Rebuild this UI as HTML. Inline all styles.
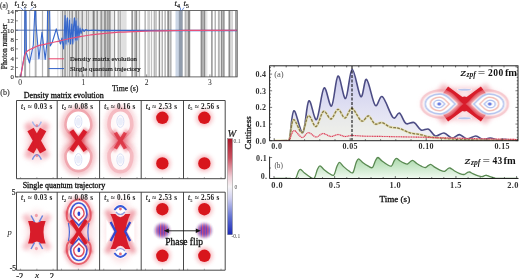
<!DOCTYPE html>
<html><head><meta charset="utf-8"><title>Figure</title>
<style>html,body{margin:0;padding:0;background:#fff;width:520px;height:278px;overflow:hidden}</style>
</head><body>
<svg width="520" height="278" viewBox="0 0 520 278" style="position:absolute;left:0;top:0;filter:blur(0.3px)">
<defs>
<filter id="b1" x="-50%" y="-50%" width="200%" height="200%"><feGaussianBlur stdDeviation="1"/></filter>
<filter id="b05" x="-50%" y="-50%" width="200%" height="200%"><feGaussianBlur stdDeviation="0.6"/></filter>
<filter id="b2" x="-50%" y="-50%" width="200%" height="200%"><feGaussianBlur stdDeviation="2"/></filter>
<filter id="b3" x="-50%" y="-50%" width="200%" height="200%"><feGaussianBlur stdDeviation="3"/></filter>
<filter id="b4" x="-50%" y="-50%" width="200%" height="200%"><feGaussianBlur stdDeviation="4.5"/></filter>
<radialGradient id="blob"><stop offset="0" stop-color="#d8121e"/><stop offset="0.55" stop-color="#dc1a26"/><stop offset="0.75" stop-color="#ec8088"/><stop offset="1" stop-color="#fff" stop-opacity="0"/></radialGradient>
<linearGradient id="cbar" x1="0" y1="0" x2="0" y2="1"><stop offset="0" stop-color="#a81828"/><stop offset="0.2" stop-color="#c85060"/><stop offset="0.4" stop-color="#f0d0d8"/><stop offset="0.5" stop-color="#f6f4f6"/><stop offset="0.62" stop-color="#d0d0f0"/><stop offset="0.82" stop-color="#6070d0"/><stop offset="1" stop-color="#1a28b8"/></linearGradient>
<linearGradient id="lav" gradientUnits="userSpaceOnUse" x1="0" y1="68" x2="0" y2="141"><stop offset="0" stop-color="#c8c8ec"/><stop offset="0.5" stop-color="#dedef2"/><stop offset="1" stop-color="#f2f2f6"/></linearGradient>
<linearGradient id="grn" x1="0" y1="0" x2="0" y2="1"><stop offset="0" stop-color="#a8d8a8"/><stop offset="1" stop-color="#f2faf2"/></linearGradient>
<pattern id="stripes" x="0.3" width="2.6" height="10" patternUnits="userSpaceOnUse"><rect width="2.6" height="10" fill="#c84878"/><rect x="1.3" width="1.3" height="10" fill="#5c44cc"/></pattern>
<radialGradient id="pfade"><stop offset="0" stop-color="#fff"/><stop offset="0.5" stop-color="#fff"/><stop offset="1" stop-color="#000"/></radialGradient>
<mask id="pmask"><ellipse cx="0" cy="0" rx="8.8" ry="8.6" fill="url(#pfade)" filter="url(#b1)"/></mask>
<clipPath id="clipA"><rect x="15.5" y="10.4" width="221.7" height="66.5"/></clipPath>
<clipPath id="clipR"><rect x="269.6" y="65.8" width="248.4" height="74.9"/></clipPath>
<clipPath id="clipG"><rect x="269.6" y="150" width="250" height="28.6"/></clipPath>
</defs>
<rect width="520" height="278" fill="#fff"/>
<g clip-path="url(#clipA)">
<rect x="60.00" y="10.40" width="50.00" height="66.50" fill="#000" fill-opacity="0.10"/>
<rect x="121.80" y="10.40" width="4.80" height="66.50" fill="#000" fill-opacity="0.12"/>
<rect x="109.00" y="10.40" width="5.00" height="66.50" fill="#000" fill-opacity="0.08"/>
<rect x="21.20" y="10.40" width="0.80" height="66.50" fill="#222" fill-opacity="0.21"/>
<rect x="24.10" y="10.40" width="2.00" height="66.50" fill="#222" fill-opacity="0.40"/>
<rect x="29.20" y="10.40" width="1.00" height="66.50" fill="#222" fill-opacity="0.34"/>
<rect x="34.70" y="10.40" width="1.90" height="66.50" fill="#222" fill-opacity="0.34"/>
<rect x="41.90" y="10.40" width="1.20" height="66.50" fill="#222" fill-opacity="0.34"/>
<rect x="47.20" y="10.40" width="2.40" height="66.50" fill="#222" fill-opacity="0.46"/>
<rect x="57.30" y="10.40" width="1.00" height="66.50" fill="#222" fill-opacity="0.17"/>
<rect x="62.00" y="10.40" width="1.10" height="66.50" fill="#222" fill-opacity="0.40"/>
<rect x="64.30" y="10.40" width="1.50" height="66.50" fill="#222" fill-opacity="0.40"/>
<rect x="67.20" y="10.40" width="0.60" height="66.50" fill="#222" fill-opacity="0.29"/>
<rect x="69.10" y="10.40" width="1.00" height="66.50" fill="#222" fill-opacity="0.40"/>
<rect x="71.50" y="10.40" width="1.50" height="66.50" fill="#222" fill-opacity="0.40"/>
<rect x="75.40" y="10.40" width="1.40" height="66.50" fill="#222" fill-opacity="0.52"/>
<rect x="77.80" y="10.40" width="1.40" height="66.50" fill="#222" fill-opacity="0.40"/>
<rect x="81.60" y="10.40" width="1.40" height="66.50" fill="#222" fill-opacity="0.40"/>
<rect x="86.00" y="10.40" width="1.00" height="66.50" fill="#222" fill-opacity="0.34"/>
<rect x="87.90" y="10.40" width="0.90" height="66.50" fill="#222" fill-opacity="0.34"/>
<rect x="92.70" y="10.40" width="1.90" height="66.50" fill="#222" fill-opacity="0.52"/>
<rect x="96.50" y="10.40" width="1.50" height="66.50" fill="#222" fill-opacity="0.40"/>
<rect x="100.40" y="10.40" width="1.90" height="66.50" fill="#222" fill-opacity="0.40"/>
<rect x="103.80" y="10.40" width="1.40" height="66.50" fill="#222" fill-opacity="0.40"/>
<rect x="107.10" y="10.40" width="1.50" height="66.50" fill="#222" fill-opacity="0.40"/>
<rect x="105.00" y="10.40" width="1.40" height="66.50" fill="#222" fill-opacity="0.34"/>
<rect x="108.80" y="10.40" width="2.00" height="66.50" fill="#222" fill-opacity="0.34"/>
<rect x="114.10" y="10.40" width="1.00" height="66.50" fill="#222" fill-opacity="0.52"/>
<rect x="117.50" y="10.40" width="1.50" height="66.50" fill="#222" fill-opacity="0.34"/>
<rect x="119.40" y="10.40" width="1.90" height="66.50" fill="#222" fill-opacity="0.34"/>
<rect x="131.40" y="10.40" width="1.50" height="66.50" fill="#222" fill-opacity="0.52"/>
<rect x="133.80" y="10.40" width="1.00" height="66.50" fill="#222" fill-opacity="0.34"/>
<rect x="135.30" y="10.40" width="1.90" height="66.50" fill="#222" fill-opacity="0.52"/>
<rect x="138.70" y="10.40" width="1.40" height="66.50" fill="#222" fill-opacity="0.34"/>
<rect x="144.40" y="10.40" width="1.50" height="66.50" fill="#222" fill-opacity="0.34"/>
<rect x="147.30" y="10.40" width="2.90" height="66.50" fill="#222" fill-opacity="0.21"/>
<rect x="151.20" y="10.40" width="0.90" height="66.50" fill="#222" fill-opacity="0.34"/>
<rect x="153.60" y="10.40" width="1.40" height="66.50" fill="#222" fill-opacity="0.34"/>
<rect x="155.30" y="10.40" width="1.40" height="66.50" fill="#222" fill-opacity="0.34"/>
<rect x="158.70" y="10.40" width="1.40" height="66.50" fill="#222" fill-opacity="0.52"/>
<rect x="161.50" y="10.40" width="1.50" height="66.50" fill="#222" fill-opacity="0.34"/>
<rect x="164.40" y="10.40" width="1.50" height="66.50" fill="#222" fill-opacity="0.34"/>
<rect x="167.30" y="10.40" width="1.90" height="66.50" fill="#222" fill-opacity="0.52"/>
<rect x="169.70" y="10.40" width="1.90" height="66.50" fill="#222" fill-opacity="0.34"/>
<rect x="178.80" y="10.40" width="3.90" height="66.50" fill="#222" fill-opacity="0.40"/>
<rect x="184.60" y="10.40" width="1.40" height="66.50" fill="#222" fill-opacity="0.34"/>
<rect x="186.00" y="10.40" width="2.00" height="66.50" fill="#222" fill-opacity="0.23"/>
<rect x="188.00" y="10.40" width="2.20" height="66.50" fill="#222" fill-opacity="0.52"/>
<rect x="200.60" y="10.40" width="1.90" height="66.50" fill="#222" fill-opacity="0.52"/>
<rect x="202.50" y="10.40" width="1.10" height="66.50" fill="#222" fill-opacity="0.29"/>
<rect x="203.60" y="10.40" width="1.80" height="66.50" fill="#222" fill-opacity="0.52"/>
<rect x="206.30" y="10.40" width="1.00" height="66.50" fill="#222" fill-opacity="0.17"/>
<rect x="211.20" y="10.40" width="1.40" height="66.50" fill="#222" fill-opacity="0.52"/>
<rect x="214.50" y="10.40" width="1.50" height="66.50" fill="#222" fill-opacity="0.34"/>
<rect x="217.90" y="10.40" width="1.90" height="66.50" fill="#222" fill-opacity="0.34"/>
<rect x="220.80" y="10.40" width="1.40" height="66.50" fill="#222" fill-opacity="0.52"/>
<rect x="222.20" y="10.40" width="1.00" height="66.50" fill="#222" fill-opacity="0.29"/>
<rect x="223.20" y="10.40" width="1.40" height="66.50" fill="#222" fill-opacity="0.52"/>
<rect x="228.50" y="10.40" width="1.90" height="66.50" fill="#222" fill-opacity="0.52"/>
<rect x="231.30" y="10.40" width="1.50" height="66.50" fill="#222" fill-opacity="0.23"/>
<rect x="235.20" y="10.40" width="1.40" height="66.50" fill="#222" fill-opacity="0.52"/>
<rect x="175.5" y="10.4" width="7" height="66.5" fill="#6a8ab8" fill-opacity="0.35"/>
<line x1="15.5" y1="30.19" x2="237.2" y2="30.19" stroke="#3a5aa0" stroke-width="0.8"/>
<path d="M62,46 L64,18 L78,18 L82,30 L80,40 L66,46 Z" fill="#8aa8e8" fill-opacity="0.35"/>
<path d="M26,50 L29.5,62 L34,44 L39,58 L42,33 L45,59 L47.5,42 L47.5,60 L26,60 Z" fill="#8aa8e8" fill-opacity="0.25"/>
<path d="M20.60,76.60 L22.50,66.00 L24.60,54.00 L24.90,9.00 L26.00,9.00 L26.40,53.00 L29.50,63.00 L33.30,45.00 L34.90,9.00 L35.60,9.00 L36.00,24.00 L38.90,58.70 L42.00,32.00 L45.20,59.40 L47.20,40.00 L47.60,9.00 L49.60,9.00 L50.20,46.00 L52.00,43.00 L54.20,36.00 L56.30,28.80 L58.50,38.00 L60.50,44.00 L62.00,38.00 L63.60,48.90 L65.10,15.50 L66.00,44.00 L66.80,22.00 L67.40,17.90 L68.30,42.00 L69.50,20.00 L70.50,44.00 L71.80,24.00 L72.80,44.00 L73.60,26.00 L74.50,17.90 L75.30,40.00 L76.00,20.80 L77.00,40.00 L78.00,26.00 L79.00,37.00 L80.00,28.00 L81.00,33.50 L82.50,29.00 L84.00,31.50 L86.00,29.50 L88.00,30.80 L92.00,30.20 L100.00,30.60 L237.00,30.60" fill="none" stroke="#3566cc" stroke-width="1.1" stroke-linejoin="round"/>
<path d="M20.60,76.80 C20.92,75.08 21.85,69.88 22.50,66.50 C23.15,63.12 24.00,58.72 24.50,56.50 C25.00,54.28 25.00,54.12 25.50,53.20 C26.00,52.28 26.75,51.62 27.50,51.00 C28.25,50.38 28.92,50.07 30.00,49.50 C31.08,48.93 32.33,48.32 34.00,47.60 C35.67,46.88 37.33,45.93 40.00,45.20 C42.67,44.47 46.67,43.93 50.00,43.20 C53.33,42.47 56.67,41.58 60.00,40.80 C63.33,40.02 66.67,39.20 70.00,38.50 C73.33,37.80 76.67,37.18 80.00,36.60 C83.33,36.02 86.67,35.47 90.00,35.00 C93.33,34.53 95.00,34.27 100.00,33.80 C105.00,33.33 113.33,32.62 120.00,32.20 C126.67,31.78 133.33,31.53 140.00,31.30 C146.67,31.07 153.33,30.93 160.00,30.80 C166.67,30.67 173.33,30.57 180.00,30.50 C186.67,30.43 190.50,30.39 200.00,30.35 C209.50,30.31 230.83,30.27 237.00,30.25" fill="none" stroke="#e8507a" stroke-width="1.2"/>
</g>
<rect x="15.50" y="10.40" width="221.70" height="66.50" fill="none" stroke="#444" stroke-width="0.8"/>
<line x1="15.5" y1="76.90" x2="18.0" y2="76.90" stroke="#444" stroke-width="0.6"/>
<text x="13.8" y="79.30" font-size="6.8" text-anchor="end" fill="#333" stroke="#333" stroke-width="0.15" font-family="'Liberation Serif', 'DejaVu Serif', serif">0</text>
<line x1="15.5" y1="67.56" x2="18.0" y2="67.56" stroke="#444" stroke-width="0.6"/>
<text x="13.8" y="69.96" font-size="6.8" text-anchor="end" fill="#333" stroke="#333" stroke-width="0.15" font-family="'Liberation Serif', 'DejaVu Serif', serif">2</text>
<line x1="15.5" y1="58.21" x2="18.0" y2="58.21" stroke="#444" stroke-width="0.6"/>
<text x="13.8" y="60.61" font-size="6.8" text-anchor="end" fill="#333" stroke="#333" stroke-width="0.15" font-family="'Liberation Serif', 'DejaVu Serif', serif">4</text>
<line x1="15.5" y1="48.87" x2="18.0" y2="48.87" stroke="#444" stroke-width="0.6"/>
<text x="13.8" y="51.27" font-size="6.8" text-anchor="end" fill="#333" stroke="#333" stroke-width="0.15" font-family="'Liberation Serif', 'DejaVu Serif', serif">6</text>
<line x1="15.5" y1="39.53" x2="18.0" y2="39.53" stroke="#444" stroke-width="0.6"/>
<text x="13.8" y="41.93" font-size="6.8" text-anchor="end" fill="#333" stroke="#333" stroke-width="0.15" font-family="'Liberation Serif', 'DejaVu Serif', serif">8</text>
<line x1="15.5" y1="30.19" x2="18.0" y2="30.19" stroke="#444" stroke-width="0.6"/>
<text x="13.8" y="32.59" font-size="6.8" text-anchor="end" fill="#333" stroke="#333" stroke-width="0.15" font-family="'Liberation Serif', 'DejaVu Serif', serif">10</text>
<line x1="15.5" y1="20.84" x2="18.0" y2="20.84" stroke="#444" stroke-width="0.6"/>
<text x="13.8" y="23.24" font-size="6.8" text-anchor="end" fill="#333" stroke="#333" stroke-width="0.15" font-family="'Liberation Serif', 'DejaVu Serif', serif">12</text>
<line x1="15.5" y1="11.50" x2="18.0" y2="11.50" stroke="#444" stroke-width="0.6"/>
<text x="13.8" y="13.90" font-size="6.8" text-anchor="end" fill="#333" stroke="#333" stroke-width="0.15" font-family="'Liberation Serif', 'DejaVu Serif', serif">14</text>
<line x1="20.00" y1="76.9" x2="20.00" y2="74.4" stroke="#444" stroke-width="0.6"/>
<text x="20.00" y="84.8" font-size="7.5" text-anchor="middle" fill="#222" font-family="'Liberation Serif', 'DejaVu Serif', serif">0</text>
<line x1="83.30" y1="76.9" x2="83.30" y2="74.4" stroke="#444" stroke-width="0.6"/>
<text x="83.30" y="84.8" font-size="7.5" text-anchor="middle" fill="#222" font-family="'Liberation Serif', 'DejaVu Serif', serif">1</text>
<line x1="146.60" y1="76.9" x2="146.60" y2="74.4" stroke="#444" stroke-width="0.6"/>
<text x="146.60" y="84.8" font-size="7.5" text-anchor="middle" fill="#222" font-family="'Liberation Serif', 'DejaVu Serif', serif">2</text>
<line x1="209.90" y1="76.9" x2="209.90" y2="74.4" stroke="#444" stroke-width="0.6"/>
<text x="209.90" y="84.8" font-size="7.5" text-anchor="middle" fill="#222" font-family="'Liberation Serif', 'DejaVu Serif', serif">3</text>
<text x="125.3" y="91.2" font-size="7.8" text-anchor="middle" fill="#222" stroke="#222" stroke-width="0.25" font-family="'Liberation Serif', 'DejaVu Serif', serif">Time (s)</text>
<text transform="translate(6.7,46.5) rotate(-90)" font-size="7.4" text-anchor="middle" fill="#222" stroke="#222" stroke-width="0.2" font-family="'Liberation Serif', 'DejaVu Serif', serif">Photon number</text>
<text x="0" y="8" font-size="7.2" fill="#333" stroke="#333" stroke-width="0.15" font-family="'Liberation Serif', 'DejaVu Serif', serif">(a)</text>
<line x1="48.6" y1="58.8" x2="64" y2="58.8" stroke="#e8406a" stroke-width="1"/>
<line x1="48.6" y1="68.6" x2="64" y2="68.6" stroke="#2f5fc8" stroke-width="1"/>
<text x="70" y="61.1" font-size="6.7" fill="#222" stroke="#222" stroke-width="0.2" font-family="'Liberation Serif', 'DejaVu Serif', serif">Density matrix evolution</text>
<text x="70" y="70.6" font-size="6.8" fill="#222" stroke="#222" stroke-width="0.2" font-family="'Liberation Serif', 'DejaVu Serif', serif">Single quantum trajectory</text>
<text x="14.40" y="6.40" font-size="8.5" font-style="italic" fill="#222" stroke="#222" stroke-width="0.2" font-family="'Liberation Serif', 'DejaVu Serif', serif">t<tspan font-size="6.2" font-style="normal" dy="1.6">1</tspan></text>
<text x="21.40" y="6.40" font-size="8.5" font-style="italic" fill="#222" stroke="#222" stroke-width="0.2" font-family="'Liberation Serif', 'DejaVu Serif', serif">t<tspan font-size="6.2" font-style="normal" dy="1.6">2</tspan></text>
<text x="30.80" y="6.40" font-size="8.5" font-style="italic" fill="#222" stroke="#222" stroke-width="0.2" font-family="'Liberation Serif', 'DejaVu Serif', serif">t<tspan font-size="6.2" font-style="normal" dy="1.6">3</tspan></text>
<text x="174.60" y="6.40" font-size="8.5" font-style="italic" fill="#222" stroke="#222" stroke-width="0.2" font-family="'Liberation Serif', 'DejaVu Serif', serif">t<tspan font-size="6.2" font-style="normal" dy="1.6">4</tspan></text>
<text x="183.40" y="6.40" font-size="8.5" font-style="italic" fill="#222" stroke="#222" stroke-width="0.2" font-family="'Liberation Serif', 'DejaVu Serif', serif">t<tspan font-size="6.2" font-style="normal" dy="1.6">5</tspan></text>
<path d="M20.5,7.5 L23.5,10.5 M25,7.5 L25,10.5 M33,7.5 L30,10.5 M180.5,7.5 L180.5,10.5 M184,7.5 L182,10.5" stroke="#3a6ad0" stroke-width="0.7" fill="none"/>
<text x="0.3" y="94.6" font-size="8" fill="#333" stroke="#333" stroke-width="0.15" font-family="'Liberation Serif', 'DejaVu Serif', serif">(b)</text>
<text x="23.8" y="97.6" font-size="8" fill="#111" stroke="#111" stroke-width="0.3" font-family="'Liberation Serif', 'DejaVu Serif', serif">Density matrix evolution</text>
<text x="22.7" y="188.2" font-size="7.95" fill="#111" stroke="#111" stroke-width="0.3" font-family="'Liberation Serif', 'DejaVu Serif', serif">Single quantum trajectory</text>
<svg x="16.50" y="100.50" width="40.70" height="78.20" viewBox="16.50 100.50 40.70 78.20" overflow="hidden">
<ellipse cx="36.85" cy="140.60" rx="11.00" ry="22.00" fill="#f6b0b8" stroke="none" stroke-width="1.00" opacity="0.40" filter="url(#b3)"/>
<path d="M26.85,123.60 L46.85,157.60 M46.85,123.60 L26.85,157.60" stroke="#ec7080" stroke-width="7.00" stroke-linecap="butt" opacity="0.50" filter="url(#b2)"/>
<path d="M30.55,129.40 L43.15,151.80 M43.15,129.40 L30.55,151.80" stroke="#d81e2a" stroke-width="7.20" stroke-linecap="butt" opacity="1.00" filter="url(#b05)"/>
<rect x="33.85" y="134.60" width="6" height="12" fill="#d81e2a" filter="url(#b05)"/>
<path d="M32.35,121.60 Q36.85,131.60 41.35,121.60" stroke="#a8b8ec" stroke-width="1.40" fill="none" opacity="1.00" filter="url(#b05)"/>
<path d="M32.35,159.60 Q36.85,149.60 41.35,159.60" stroke="#7890e0" stroke-width="1.40" fill="none" opacity="1.00" filter="url(#b05)"/>
<ellipse cx="36.85" cy="125.60" rx="1.30" ry="1.60" fill="#e06070" stroke="none" stroke-width="1.00" opacity="0.60" filter="url(#b05)"/>
<ellipse cx="36.85" cy="155.60" rx="1.30" ry="1.60" fill="#e06070" stroke="none" stroke-width="1.00" opacity="0.60" filter="url(#b05)"/>
</svg>
<text x="21.10" y="108.50" font-size="7.2" fill="#222" font-family="'Liberation Serif', 'DejaVu Serif', serif"><tspan font-style="italic" stroke="#222" stroke-width="0.2">t</tspan><tspan font-size="5" dy="1.3" font-weight="bold">1</tspan><tspan dy="-1.3" font-weight="bold" letter-spacing="0.25"> &#8776; 0.03 s</tspan></text>
<svg x="57.20" y="100.50" width="42.40" height="78.20" viewBox="57.20 100.50 42.40 78.20" overflow="hidden">
<linearGradient id="tg1" gradientUnits="userSpaceOnUse" x1="0" y1="110.10" x2="0" y2="171.10"><stop offset="0" stop-color="#f0a8b0"/><stop offset="0.35" stop-color="#f0a8b0"/><stop offset="0.5" stop-color="#d8202e"/><stop offset="0.65" stop-color="#f0a8b0"/><stop offset="1" stop-color="#f0a8b0"/></linearGradient>
<ellipse cx="78.40" cy="140.60" rx="14.45" ry="32.50" fill="#f4a8b0" stroke="none" stroke-width="1.00" opacity="0.35" filter="url(#b3)"/>
<path d="M78.40,140.60 C71.90,133.10 65.48,132.35 65.48,125.35 C65.48,117.35 70.40,110.10 78.40,110.10 C86.40,110.10 91.32,117.35 91.32,125.35 C91.32,132.35 84.90,133.10 78.40,140.60 Z" fill="#fff" stroke="url(#tg1)" stroke-width="8.60" opacity="0.60" filter="url(#b2)"/>
<path d="M78.40,140.60 C71.90,133.10 65.48,132.35 65.48,125.35 C65.48,117.35 70.40,110.10 78.40,110.10 C86.40,110.10 91.32,117.35 91.32,125.35 C91.32,132.35 84.90,133.10 78.40,140.60 Z" fill="#fff" stroke="url(#tg1)" stroke-width="2.60" opacity="1.00" filter="url(#b05)"/>
<ellipse cx="78.40" cy="121.69" rx="3.50" ry="6.00" fill="none" stroke="#c8d2f2" stroke-width="1.00" opacity="0.70" filter="url(#b05)"/>
<ellipse cx="78.40" cy="121.69" rx="2.50" ry="4.00" fill="#e6ebfa" stroke="none" stroke-width="1.00" opacity="0.80" filter="url(#b05)"/>
<path d="M78.40,140.60 C71.90,148.10 65.48,148.85 65.48,155.85 C65.48,163.85 70.40,171.10 78.40,171.10 C86.40,171.10 91.32,163.85 91.32,155.85 C91.32,148.85 84.90,148.10 78.40,140.60 Z" fill="#fff" stroke="url(#tg1)" stroke-width="8.60" opacity="0.60" filter="url(#b2)"/>
<path d="M78.40,140.60 C71.90,148.10 65.48,148.85 65.48,155.85 C65.48,163.85 70.40,171.10 78.40,171.10 C86.40,171.10 91.32,163.85 91.32,155.85 C91.32,148.85 84.90,148.10 78.40,140.60 Z" fill="#fff" stroke="url(#tg1)" stroke-width="2.60" opacity="1.00" filter="url(#b05)"/>
<ellipse cx="78.40" cy="159.51" rx="3.50" ry="6.00" fill="none" stroke="#c8d2f2" stroke-width="1.00" opacity="0.70" filter="url(#b05)"/>
<ellipse cx="78.40" cy="159.51" rx="2.50" ry="4.00" fill="#e6ebfa" stroke="none" stroke-width="1.00" opacity="0.80" filter="url(#b05)"/>
<path d="M69.90,129.10 L86.90,152.10 M86.90,129.10 L69.90,152.10" stroke="#e04a5a" stroke-width="6.00" stroke-linecap="butt" opacity="0.45" filter="url(#b1)"/>
<path d="M71.40,130.60 L85.40,150.60 M85.40,130.60 L71.40,150.60" stroke="#d81e2a" stroke-width="4.60" stroke-linecap="butt" opacity="1.00" filter="url(#b05)"/>
</svg>
<text x="61.80" y="108.50" font-size="7.2" fill="#222" font-family="'Liberation Serif', 'DejaVu Serif', serif"><tspan font-style="italic" stroke="#222" stroke-width="0.2">t</tspan><tspan font-size="5" dy="1.3" font-weight="bold">2</tspan><tspan dy="-1.3" font-weight="bold" letter-spacing="0.25"> &#8776; 0.08 s</tspan></text>
<svg x="99.60" y="100.50" width="41.60" height="78.20" viewBox="99.60 100.50 41.60 78.20" overflow="hidden">
<linearGradient id="tg2" gradientUnits="userSpaceOnUse" x1="0" y1="109.60" x2="0" y2="171.60"><stop offset="0" stop-color="#f4b4bc"/><stop offset="0.35" stop-color="#f4b4bc"/><stop offset="0.5" stop-color="#e04a5a"/><stop offset="0.65" stop-color="#f4b4bc"/><stop offset="1" stop-color="#f4b4bc"/></linearGradient>
<ellipse cx="120.40" cy="140.60" rx="12.75" ry="33.00" fill="#f4a8b0" stroke="none" stroke-width="1.00" opacity="0.35" filter="url(#b3)"/>
<path d="M120.40,140.60 C113.90,133.10 109.00,132.10 109.00,125.10 C109.00,117.10 112.40,109.60 120.40,109.60 C128.40,109.60 131.80,117.10 131.80,125.10 C131.80,132.10 126.90,133.10 120.40,140.60 Z" fill="#fff" stroke="url(#tg2)" stroke-width="9.60" opacity="0.48" filter="url(#b2)"/>
<path d="M120.40,140.60 C113.90,133.10 109.00,132.10 109.00,125.10 C109.00,117.10 112.40,109.60 120.40,109.60 C128.40,109.60 131.80,117.10 131.80,125.10 C131.80,132.10 126.90,133.10 120.40,140.60 Z" fill="#fff" stroke="url(#tg2)" stroke-width="3.60" opacity="0.80" filter="url(#b05)"/>
<ellipse cx="120.40" cy="121.38" rx="3.50" ry="6.00" fill="none" stroke="#c8d2f2" stroke-width="1.00" opacity="0.70" filter="url(#b05)"/>
<ellipse cx="120.40" cy="121.38" rx="2.50" ry="4.00" fill="#e6ebfa" stroke="none" stroke-width="1.00" opacity="0.80" filter="url(#b05)"/>
<path d="M120.40,140.60 C113.90,148.10 109.00,149.10 109.00,156.10 C109.00,164.10 112.40,171.60 120.40,171.60 C128.40,171.60 131.80,164.10 131.80,156.10 C131.80,149.10 126.90,148.10 120.40,140.60 Z" fill="#fff" stroke="url(#tg2)" stroke-width="9.60" opacity="0.48" filter="url(#b2)"/>
<path d="M120.40,140.60 C113.90,148.10 109.00,149.10 109.00,156.10 C109.00,164.10 112.40,171.60 120.40,171.60 C128.40,171.60 131.80,164.10 131.80,156.10 C131.80,149.10 126.90,148.10 120.40,140.60 Z" fill="#fff" stroke="url(#tg2)" stroke-width="3.60" opacity="0.80" filter="url(#b05)"/>
<ellipse cx="120.40" cy="159.82" rx="3.50" ry="6.00" fill="none" stroke="#c8d2f2" stroke-width="1.00" opacity="0.70" filter="url(#b05)"/>
<ellipse cx="120.40" cy="159.82" rx="2.50" ry="4.00" fill="#e6ebfa" stroke="none" stroke-width="1.00" opacity="0.80" filter="url(#b05)"/>
<path d="M113.40,130.10 L127.40,151.10 M127.40,130.10 L113.40,151.10" stroke="#e86070" stroke-width="5.00" stroke-linecap="butt" opacity="0.40" filter="url(#b1)"/>
<path d="M115.40,132.60 L125.40,148.60 M125.40,132.60 L115.40,148.60" stroke="#dc3040" stroke-width="3.60" stroke-linecap="butt" opacity="0.85" filter="url(#b05)"/>
</svg>
<text x="104.20" y="108.50" font-size="7.2" fill="#222" font-family="'Liberation Serif', 'DejaVu Serif', serif"><tspan font-style="italic" stroke="#222" stroke-width="0.2">t</tspan><tspan font-size="5" dy="1.3" font-weight="bold">3</tspan><tspan dy="-1.3" font-weight="bold" letter-spacing="0.25"> &#8776; 0.16 s</tspan></text>
<svg x="141.20" y="100.50" width="42.30" height="78.20" viewBox="141.20 100.50 42.30 78.20" overflow="hidden">
<circle cx="162.35" cy="117.80" r="8.20" fill="#e83a48" opacity="0.35" filter="url(#b2)"/>
<circle cx="162.35" cy="117.80" r="6.20" fill="#d8151f" filter="url(#b05)"/>
<circle cx="162.35" cy="163.40" r="8.20" fill="#e83a48" opacity="0.35" filter="url(#b2)"/>
<circle cx="162.35" cy="163.40" r="6.20" fill="#d8151f" filter="url(#b05)"/>
</svg>
<text x="145.80" y="108.50" font-size="7.2" fill="#222" font-family="'Liberation Serif', 'DejaVu Serif', serif"><tspan font-style="italic" stroke="#222" stroke-width="0.2">t</tspan><tspan font-size="5" dy="1.3" font-weight="bold">4</tspan><tspan dy="-1.3" font-weight="bold" letter-spacing="0.25"> &#8776; 2.53 s</tspan></text>
<svg x="183.50" y="100.50" width="41.70" height="78.20" viewBox="183.50 100.50 41.70 78.20" overflow="hidden">
<circle cx="204.35" cy="117.80" r="8.20" fill="#e83a48" opacity="0.35" filter="url(#b2)"/>
<circle cx="204.35" cy="117.80" r="6.20" fill="#d8151f" filter="url(#b05)"/>
<circle cx="204.35" cy="163.40" r="8.20" fill="#e83a48" opacity="0.35" filter="url(#b2)"/>
<circle cx="204.35" cy="163.40" r="6.20" fill="#d8151f" filter="url(#b05)"/>
</svg>
<text x="188.10" y="108.50" font-size="7.2" fill="#222" font-family="'Liberation Serif', 'DejaVu Serif', serif"><tspan font-style="italic" stroke="#222" stroke-width="0.2">t</tspan><tspan font-size="5" dy="1.3" font-weight="bold">5</tspan><tspan dy="-1.3" font-weight="bold" letter-spacing="0.25"> &#8776; 2.56 s</tspan></text>
<line x1="16.50" y1="100.50" x2="16.50" y2="178.70" stroke="#333" stroke-width="0.9"/>
<line x1="57.20" y1="100.50" x2="57.20" y2="178.70" stroke="#333" stroke-width="0.9"/>
<line x1="99.60" y1="100.50" x2="99.60" y2="178.70" stroke="#333" stroke-width="0.9"/>
<line x1="141.20" y1="100.50" x2="141.20" y2="178.70" stroke="#333" stroke-width="0.9"/>
<line x1="183.50" y1="100.50" x2="183.50" y2="178.70" stroke="#333" stroke-width="0.9"/>
<line x1="225.20" y1="100.50" x2="225.20" y2="178.70" stroke="#333" stroke-width="0.9"/>
<line x1="16.50" y1="100.50" x2="225.20" y2="100.50" stroke="#333" stroke-width="0.9"/>
<line x1="16.50" y1="178.70" x2="225.20" y2="178.70" stroke="#333" stroke-width="0.9"/>
<line x1="20.57" y1="178.70" x2="20.57" y2="177.20" stroke="#555" stroke-width="0.5"/>
<line x1="36.85" y1="178.70" x2="36.85" y2="177.20" stroke="#555" stroke-width="0.5"/>
<line x1="53.13" y1="178.70" x2="53.13" y2="177.20" stroke="#555" stroke-width="0.5"/>
<line x1="61.44" y1="178.70" x2="61.44" y2="177.20" stroke="#555" stroke-width="0.5"/>
<line x1="78.40" y1="178.70" x2="78.40" y2="177.20" stroke="#555" stroke-width="0.5"/>
<line x1="95.36" y1="178.70" x2="95.36" y2="177.20" stroke="#555" stroke-width="0.5"/>
<line x1="103.76" y1="178.70" x2="103.76" y2="177.20" stroke="#555" stroke-width="0.5"/>
<line x1="120.40" y1="178.70" x2="120.40" y2="177.20" stroke="#555" stroke-width="0.5"/>
<line x1="137.04" y1="178.70" x2="137.04" y2="177.20" stroke="#555" stroke-width="0.5"/>
<line x1="145.43" y1="178.70" x2="145.43" y2="177.20" stroke="#555" stroke-width="0.5"/>
<line x1="162.35" y1="178.70" x2="162.35" y2="177.20" stroke="#555" stroke-width="0.5"/>
<line x1="179.27" y1="178.70" x2="179.27" y2="177.20" stroke="#555" stroke-width="0.5"/>
<line x1="187.67" y1="178.70" x2="187.67" y2="177.20" stroke="#555" stroke-width="0.5"/>
<line x1="204.35" y1="178.70" x2="204.35" y2="177.20" stroke="#555" stroke-width="0.5"/>
<line x1="221.03" y1="178.70" x2="221.03" y2="177.20" stroke="#555" stroke-width="0.5"/>
<svg x="16.50" y="192.20" width="40.70" height="78.00" viewBox="16.50 192.20 40.70 78.00" overflow="hidden">
<ellipse cx="36.85" cy="232.00" rx="11.00" ry="22.00" fill="#f6b0b8" stroke="none" stroke-width="1.00" opacity="0.35" filter="url(#b3)"/>
<path d="M24.35,215.00 L49.35,249.00 M49.35,215.00 L24.35,249.00" stroke="#ec7080" stroke-width="6.00" stroke-linecap="butt" opacity="0.45" filter="url(#b2)"/>
<path d="M28.05,221.00 Q32.35,232.00 28.05,243.50 L33.35,243.50 Q36.85,239.50 40.35,243.50 L45.65,243.50 Q41.35,232.00 45.65,221.00 L40.35,221.00 Q36.85,224.50 33.35,221.00 Z" fill="#d81e2a" filter="url(#b05)"/>
<path d="M31.05,215.50 L34.55,222.00 M42.65,215.50 L39.15,222.00" stroke="#6a84dc" stroke-width="1.5" fill="none" filter="url(#b05)"/>
<path d="M31.05,249.00 L34.55,242.50 M42.65,249.00 L39.15,242.50" stroke="#6a84dc" stroke-width="1.5" fill="none" filter="url(#b05)"/>
<ellipse cx="36.35" cy="215.50" rx="1.50" ry="1.80" fill="#e87080" stroke="none" stroke-width="1.00" opacity="0.60" filter="url(#b05)"/>
<ellipse cx="36.35" cy="248.50" rx="1.50" ry="1.80" fill="#e87080" stroke="none" stroke-width="1.00" opacity="0.60" filter="url(#b05)"/>
</svg>
<text x="21.10" y="200.20" font-size="7.2" fill="#222" font-family="'Liberation Serif', 'DejaVu Serif', serif"><tspan font-style="italic" stroke="#222" stroke-width="0.2">t</tspan><tspan font-size="5" dy="1.3" font-weight="bold">1</tspan><tspan dy="-1.3" font-weight="bold" letter-spacing="0.25"> &#8776; 0.03 s</tspan></text>
<svg x="57.20" y="192.20" width="42.40" height="78.00" viewBox="57.20 192.20 42.40 78.00" overflow="hidden">
<ellipse cx="78.40" cy="232.00" rx="15.00" ry="33.00" fill="#f6b0b8" stroke="none" stroke-width="1.00" opacity="0.40" filter="url(#b3)"/>
<path d="M78.70,232.00 C71.20,222.00 66.70,222.90 66.70,215.75 C66.70,207.62 71.26,199.50 78.70,199.50 C86.14,199.50 90.70,207.62 90.70,215.75 C90.70,222.90 86.20,222.00 78.70,232.00 Z" fill="#fff" stroke="#e45060" stroke-width="5" opacity="0.4" filter="url(#b2)"/>
<path d="M78.70,232.00 C71.20,222.00 66.70,222.90 66.70,215.75 C66.70,207.62 71.26,199.50 78.70,199.50 C86.14,199.50 90.70,207.62 90.70,215.75 C90.70,222.90 86.20,222.00 78.70,232.00 Z" fill="#fff" stroke="#e03848" stroke-width="2.0" opacity="0.7" filter="url(#b05)"/>
<path d="M78.80,225.50 C74.30,219.50 70.60,219.20 70.60,214.25 C70.60,208.62 73.72,203.00 78.80,203.00 C83.88,203.00 87.00,208.62 87.00,214.25 C87.00,219.20 83.30,219.50 78.80,225.50 Z" fill="none" stroke="#3a5ad8" stroke-width="1.7" filter="url(#b05)"/>
<path d="M78.90,220.50 C76.40,217.00 73.70,216.72 73.70,213.75 C73.70,210.38 75.68,207.00 78.90,207.00 C82.12,207.00 84.10,210.38 84.10,213.75 C84.10,216.72 81.40,217.00 78.90,220.50 Z" fill="none" stroke="#e04a58" stroke-width="1.4" filter="url(#b05)"/>
<ellipse cx="78.90" cy="213.80" rx="1.40" ry="2.30" fill="#2a40d0" stroke="none" stroke-width="1.00" opacity="1.00" filter="url(#b05)"/>
<path d="M78.70,232.00 C71.20,242.00 66.70,240.96 66.70,248.00 C66.70,256.00 71.26,264.00 78.70,264.00 C86.14,264.00 90.70,256.00 90.70,248.00 C90.70,240.96 86.20,242.00 78.70,232.00 Z" fill="#fff" stroke="#e45060" stroke-width="5" opacity="0.4" filter="url(#b2)"/>
<path d="M78.70,232.00 C71.20,242.00 66.70,240.96 66.70,248.00 C66.70,256.00 71.26,264.00 78.70,264.00 C86.14,264.00 90.70,256.00 90.70,248.00 C90.70,240.96 86.20,242.00 78.70,232.00 Z" fill="#fff" stroke="#e03848" stroke-width="2.0" opacity="0.7" filter="url(#b05)"/>
<path d="M78.80,238.50 C74.30,244.50 70.60,244.66 70.60,249.50 C70.60,255.00 73.72,260.50 78.80,260.50 C83.88,260.50 87.00,255.00 87.00,249.50 C87.00,244.66 83.30,244.50 78.80,238.50 Z" fill="none" stroke="#3a5ad8" stroke-width="1.7" filter="url(#b05)"/>
<path d="M78.90,243.50 C76.40,247.00 73.70,247.14 73.70,250.00 C73.70,253.25 75.68,256.50 78.90,256.50 C82.12,256.50 84.10,253.25 84.10,250.00 C84.10,247.14 81.40,247.00 78.90,243.50 Z" fill="none" stroke="#e04a58" stroke-width="1.4" filter="url(#b05)"/>
<ellipse cx="78.90" cy="249.92" rx="1.40" ry="2.30" fill="#2a40d0" stroke="none" stroke-width="1.00" opacity="1.00" filter="url(#b05)"/>
<path d="M68.40,223.00 Q70.40,232.00 68.40,241.00" stroke="#4a6ad8" stroke-width="1.20" fill="none" opacity="1.00" filter="url(#b05)"/>
<path d="M88.90,223.00 Q86.90,232.00 88.90,241.00" stroke="#4a6ad8" stroke-width="1.20" fill="none" opacity="1.00" filter="url(#b05)"/>
<path d="M65.70,211.00 L91.70,253.00 M91.70,211.00 L65.70,253.00" stroke="#e04050" stroke-width="3.20" stroke-linecap="butt" opacity="0.55" filter="url(#b1)"/>
<path d="M71.20,220.00 L86.20,244.00 M86.20,220.00 L71.20,244.00" stroke="#d81e2a" stroke-width="3.60" stroke-linecap="butt" opacity="1.00" filter="url(#b05)"/>
</svg>
<text x="61.80" y="200.20" font-size="7.2" fill="#222" font-family="'Liberation Serif', 'DejaVu Serif', serif"><tspan font-style="italic" stroke="#222" stroke-width="0.2">t</tspan><tspan font-size="5" dy="1.3" font-weight="bold">2</tspan><tspan dy="-1.3" font-weight="bold" letter-spacing="0.25"> &#8776; 0.08 s</tspan></text>
<svg x="99.60" y="192.20" width="41.60" height="78.00" viewBox="99.60 192.20 41.60 78.00" overflow="hidden">
<ellipse cx="120.40" cy="231.50" rx="15.00" ry="31.00" fill="#f6b0b8" stroke="none" stroke-width="1.00" opacity="0.40" filter="url(#b3)"/>
<path d="M106.40,210.50 L134.40,252.50 M134.40,210.50 L106.40,252.50" stroke="#e05060" stroke-width="5.00" stroke-linecap="butt" opacity="0.55" filter="url(#b2)"/>
<path d="M110.40,214.00 Q119.40,231.50 110.40,249.00 L115.40,249.00 Q120.40,242.50 125.40,249.00 L130.40,249.00 Q121.40,231.50 130.40,214.00 L125.40,214.00 Q120.40,220.50 115.40,214.00 Z" fill="#d81e2a" filter="url(#b05)"/>
<path d="M106.40,219.50 L113.40,231.50 L106.40,243.50 Z" fill="#fff" filter="url(#b05)"/>
<path d="M110.60,222.00 L115.60,231.50 L110.60,241.00" stroke="#3048d0" stroke-width="2.3" fill="none" filter="url(#b05)"/>
<ellipse cx="120.40" cy="209.00" rx="6.00" ry="4.50" fill="#fff" stroke="none" stroke-width="1.00" opacity="1.00" filter="url(#b05)"/>
<path d="M114.40,210.00 Q120.40,202.00 126.40,210.00" stroke="#3a5ad8" stroke-width="1.80" fill="none" opacity="1.00" filter="url(#b05)"/>
<path d="M115.90,212.00 Q120.40,217.00 124.90,212.00" stroke="#8aa0e4" stroke-width="1.20" fill="none" opacity="1.00" filter="url(#b05)"/>
<ellipse cx="120.40" cy="209.00" rx="1.40" ry="1.40" fill="#e04a58" stroke="none" stroke-width="1.00" opacity="0.80" filter="url(#b05)"/>
<path d="M134.40,219.50 L127.40,231.50 L134.40,243.50 Z" fill="#fff" filter="url(#b05)"/>
<path d="M130.20,222.00 L125.20,231.50 L130.20,241.00" stroke="#3048d0" stroke-width="2.3" fill="none" filter="url(#b05)"/>
<ellipse cx="120.40" cy="254.00" rx="6.00" ry="4.50" fill="#fff" stroke="none" stroke-width="1.00" opacity="1.00" filter="url(#b05)"/>
<path d="M114.40,253.00 Q120.40,261.00 126.40,253.00" stroke="#3a5ad8" stroke-width="1.80" fill="none" opacity="1.00" filter="url(#b05)"/>
<path d="M115.90,251.00 Q120.40,246.00 124.90,251.00" stroke="#8aa0e4" stroke-width="1.20" fill="none" opacity="1.00" filter="url(#b05)"/>
<ellipse cx="120.40" cy="254.00" rx="1.40" ry="1.40" fill="#e04a58" stroke="none" stroke-width="1.00" opacity="0.80" filter="url(#b05)"/>
</svg>
<text x="104.20" y="200.20" font-size="7.2" fill="#222" font-family="'Liberation Serif', 'DejaVu Serif', serif"><tspan font-style="italic" stroke="#222" stroke-width="0.2">t</tspan><tspan font-size="5" dy="1.3" font-weight="bold">3</tspan><tspan dy="-1.3" font-weight="bold" letter-spacing="0.25"> &#8776; 0.16 s</tspan></text>
<svg x="141.20" y="192.20" width="42.30" height="78.00" viewBox="141.20 192.20 42.30 78.00" overflow="hidden">
<circle cx="162.35" cy="209.20" r="8.20" fill="#e83a48" opacity="0.35" filter="url(#b2)"/>
<circle cx="162.35" cy="209.20" r="6.20" fill="#d8151f" filter="url(#b05)"/>
<circle cx="162.35" cy="255.80" r="8.20" fill="#e83a48" opacity="0.35" filter="url(#b2)"/>
<circle cx="162.35" cy="255.80" r="6.20" fill="#d8151f" filter="url(#b05)"/>
<g transform="translate(162.35,230.50)"><g mask="url(#pmask)"><rect x="-10" y="-10" width="20" height="20" fill="url(#stripes)"/></g></g>
</svg>
<text x="145.80" y="200.20" font-size="7.2" fill="#222" font-family="'Liberation Serif', 'DejaVu Serif', serif"><tspan font-style="italic" stroke="#222" stroke-width="0.2">t</tspan><tspan font-size="5" dy="1.3" font-weight="bold">4</tspan><tspan dy="-1.3" font-weight="bold" letter-spacing="0.25"> &#8776; 2.53 s</tspan></text>
<svg x="183.50" y="192.20" width="41.70" height="78.00" viewBox="183.50 192.20 41.70 78.00" overflow="hidden">
<circle cx="204.35" cy="209.20" r="8.20" fill="#e83a48" opacity="0.35" filter="url(#b2)"/>
<circle cx="204.35" cy="209.20" r="6.20" fill="#d8151f" filter="url(#b05)"/>
<circle cx="204.35" cy="255.80" r="8.20" fill="#e83a48" opacity="0.35" filter="url(#b2)"/>
<circle cx="204.35" cy="255.80" r="6.20" fill="#d8151f" filter="url(#b05)"/>
<g transform="translate(204.35,230.50)"><g mask="url(#pmask)"><rect x="-10" y="-10" width="20" height="20" fill="url(#stripes)"/></g></g>
</svg>
<text x="188.10" y="200.20" font-size="7.2" fill="#222" font-family="'Liberation Serif', 'DejaVu Serif', serif"><tspan font-style="italic" stroke="#222" stroke-width="0.2">t</tspan><tspan font-size="5" dy="1.3" font-weight="bold">5</tspan><tspan dy="-1.3" font-weight="bold" letter-spacing="0.25"> &#8776; 2.56 s</tspan></text>
<line x1="16.50" y1="192.20" x2="16.50" y2="270.20" stroke="#333" stroke-width="0.9"/>
<line x1="57.20" y1="192.20" x2="57.20" y2="270.20" stroke="#333" stroke-width="0.9"/>
<line x1="99.60" y1="192.20" x2="99.60" y2="270.20" stroke="#333" stroke-width="0.9"/>
<line x1="141.20" y1="192.20" x2="141.20" y2="270.20" stroke="#333" stroke-width="0.9"/>
<line x1="183.50" y1="192.20" x2="183.50" y2="270.20" stroke="#333" stroke-width="0.9"/>
<line x1="225.20" y1="192.20" x2="225.20" y2="270.20" stroke="#333" stroke-width="0.9"/>
<line x1="16.50" y1="192.20" x2="225.20" y2="192.20" stroke="#333" stroke-width="0.9"/>
<line x1="16.50" y1="270.20" x2="225.20" y2="270.20" stroke="#333" stroke-width="0.9"/>
<line x1="20.57" y1="270.20" x2="20.57" y2="268.70" stroke="#555" stroke-width="0.5"/>
<line x1="36.85" y1="270.20" x2="36.85" y2="268.70" stroke="#555" stroke-width="0.5"/>
<line x1="53.13" y1="270.20" x2="53.13" y2="268.70" stroke="#555" stroke-width="0.5"/>
<line x1="61.44" y1="270.20" x2="61.44" y2="268.70" stroke="#555" stroke-width="0.5"/>
<line x1="78.40" y1="270.20" x2="78.40" y2="268.70" stroke="#555" stroke-width="0.5"/>
<line x1="95.36" y1="270.20" x2="95.36" y2="268.70" stroke="#555" stroke-width="0.5"/>
<line x1="103.76" y1="270.20" x2="103.76" y2="268.70" stroke="#555" stroke-width="0.5"/>
<line x1="120.40" y1="270.20" x2="120.40" y2="268.70" stroke="#555" stroke-width="0.5"/>
<line x1="137.04" y1="270.20" x2="137.04" y2="268.70" stroke="#555" stroke-width="0.5"/>
<line x1="145.43" y1="270.20" x2="145.43" y2="268.70" stroke="#555" stroke-width="0.5"/>
<line x1="162.35" y1="270.20" x2="162.35" y2="268.70" stroke="#555" stroke-width="0.5"/>
<line x1="179.27" y1="270.20" x2="179.27" y2="268.70" stroke="#555" stroke-width="0.5"/>
<line x1="187.67" y1="270.20" x2="187.67" y2="268.70" stroke="#555" stroke-width="0.5"/>
<line x1="204.35" y1="270.20" x2="204.35" y2="268.70" stroke="#555" stroke-width="0.5"/>
<line x1="221.03" y1="270.20" x2="221.03" y2="268.70" stroke="#555" stroke-width="0.5"/>
<text x="15.4" y="195.3" font-size="7.5" text-anchor="end" fill="#222" stroke="#222" stroke-width="0.2" font-family="'Liberation Serif', 'DejaVu Serif', serif">5</text>
<text x="16" y="271" font-size="7.5" text-anchor="end" fill="#222" stroke="#222" stroke-width="0.2" font-family="'Liberation Serif', 'DejaVu Serif', serif">-5</text>
<text x="9.5" y="234.5" font-size="8.5" font-style="italic" text-anchor="middle" fill="#222" font-family="'Liberation Serif', 'DejaVu Serif', serif">p</text>
<text x="19.8" y="278.6" font-size="8.5" text-anchor="middle" fill="#222" stroke="#222" stroke-width="0.25" font-family="'Liberation Serif', 'DejaVu Serif', serif">-2</text>
<text x="37.1" y="277.6" font-size="9" font-style="italic" text-anchor="middle" fill="#222" stroke="#222" stroke-width="0.2" font-family="'Liberation Serif', 'DejaVu Serif', serif">x</text>
<text x="51.8" y="278.6" font-size="8.5" text-anchor="middle" fill="#222" stroke="#222" stroke-width="0.25" font-family="'Liberation Serif', 'DejaVu Serif', serif">2</text>
<line x1="167" y1="230.8" x2="198" y2="230.8" stroke="#111" stroke-width="0.9"/>
<path d="M163.8,230.8 L168.8,228.6 L168.8,233 Z M200.8,230.8 L195.8,228.6 L195.8,233 Z" fill="#111"/>
<text x="184.2" y="245.3" font-size="9.5" text-anchor="middle" fill="#111" stroke="#111" stroke-width="0.3" font-family="'Liberation Serif', 'DejaVu Serif', serif">Phase flip</text>
<rect x="227.6" y="138.7" width="4.8" height="96" fill="url(#cbar)" stroke="#666" stroke-width="0.4"/>
<text x="231.9" y="136.6" font-size="10.5" font-style="italic" text-anchor="middle" fill="#222" stroke="#222" stroke-width="0.2" font-family="'Liberation Serif', 'DejaVu Serif', serif">W</text>
<text x="233.6" y="142.6" font-size="5.5" fill="#444" font-family="'Liberation Serif', 'DejaVu Serif', serif">0.1</text>
<text x="234.4" y="189.3" font-size="5.5" fill="#444" font-family="'Liberation Serif', 'DejaVu Serif', serif">0</text>
<text x="231.5" y="238" font-size="5.5" fill="#444" font-family="'Liberation Serif', 'DejaVu Serif', serif">-0.1</text>
<g clip-path="url(#clipR)">
<path d="M274.20,140.70 C276.25,140.68 283.97,140.80 286.50,140.60 C289.03,140.40 288.17,144.47 289.40,139.50 C290.63,134.53 291.67,111.95 293.90,110.80 C296.13,109.65 300.32,134.25 302.80,132.60 C305.28,130.95 306.50,103.08 308.80,100.90 C311.10,98.72 314.07,121.65 316.60,119.50 C319.13,117.35 321.50,90.25 324.00,88.00 C326.50,85.75 329.27,108.00 331.60,106.00 C333.93,104.00 335.67,77.25 338.00,76.00 C340.33,74.75 343.23,99.62 345.60,98.50 C347.97,97.38 349.67,69.60 352.20,69.30 C354.73,69.00 358.40,95.02 360.80,96.70 C363.20,98.38 364.20,77.97 366.60,79.40 C369.00,80.83 372.57,102.42 375.20,105.30 C377.83,108.18 379.43,94.67 382.40,96.70 C385.37,98.73 390.17,114.78 393.00,117.50 C395.83,120.22 397.23,112.00 399.40,113.00 C401.57,114.00 403.57,121.92 406.00,123.50 C408.43,125.08 411.50,121.42 414.00,122.50 C416.50,123.58 418.55,128.88 421.00,130.00 C423.45,131.12 426.30,128.20 428.70,129.20 C431.10,130.20 432.85,135.37 435.40,136.00 C437.95,136.63 441.23,132.67 444.00,133.00 C446.77,133.33 449.43,137.73 452.00,138.00 C454.57,138.27 456.90,134.43 459.40,134.60 C461.90,134.77 464.27,138.77 467.00,139.00 C469.73,139.23 473.13,135.92 475.80,136.00 C478.47,136.08 480.60,139.17 483.00,139.50 C485.40,139.83 487.70,137.92 490.20,138.00 C492.70,138.08 495.53,139.80 498.00,140.00 C500.47,140.20 502.67,139.15 505.00,139.20 C507.33,139.25 509.83,140.13 512.00,140.30 C514.17,140.47 517.00,140.22 518.00,140.20 L518,140.7 L274.2,140.7 Z" fill="url(#lav)"/>
<path d="M274.20,140.70 C276.25,140.68 283.97,140.80 286.50,140.60 C289.03,140.40 288.23,142.98 289.40,139.50 C290.57,136.02 291.40,120.85 293.50,119.70 C295.60,118.55 299.50,133.27 302.00,132.60 C304.50,131.93 306.17,116.70 308.50,115.70 C310.83,114.70 313.50,127.32 316.00,126.60 C318.50,125.88 321.00,112.67 323.50,111.40 C326.00,110.13 328.58,119.35 331.00,119.00 C333.42,118.65 335.67,109.47 338.00,109.30 C340.33,109.13 342.67,118.13 345.00,118.00 C347.33,117.87 349.25,108.00 352.00,108.50 C354.75,109.00 358.75,119.75 361.50,121.00 C364.25,122.25 366.25,115.50 368.50,116.00 C370.75,116.50 372.75,122.90 375.00,124.00 C377.25,125.10 379.50,122.10 382.00,122.60 C384.50,123.10 387.17,126.05 390.00,127.00 C392.83,127.95 395.67,127.33 399.00,128.30 C402.33,129.27 406.50,131.77 410.00,132.80 C413.50,133.83 416.67,133.80 420.00,134.50 C423.33,135.20 425.83,136.33 430.00,137.00 C434.17,137.67 440.00,138.08 445.00,138.50 C450.00,138.92 454.17,139.25 460.00,139.50 C465.83,139.75 470.33,139.87 480.00,140.00 C489.67,140.13 511.67,140.25 518.00,140.30 L518,140.7 L274.2,140.7 Z" fill="#eef0d8" fill-opacity="0.35"/>
<path d="M274.20,140.70 C276.25,140.68 283.97,140.80 286.50,140.60 C289.03,140.40 288.17,144.47 289.40,139.50 C290.63,134.53 291.67,111.95 293.90,110.80 C296.13,109.65 300.32,134.25 302.80,132.60 C305.28,130.95 306.50,103.08 308.80,100.90 C311.10,98.72 314.07,121.65 316.60,119.50 C319.13,117.35 321.50,90.25 324.00,88.00 C326.50,85.75 329.27,108.00 331.60,106.00 C333.93,104.00 335.67,77.25 338.00,76.00 C340.33,74.75 343.23,99.62 345.60,98.50 C347.97,97.38 349.67,69.60 352.20,69.30 C354.73,69.00 358.40,95.02 360.80,96.70 C363.20,98.38 364.20,77.97 366.60,79.40 C369.00,80.83 372.57,102.42 375.20,105.30 C377.83,108.18 379.43,94.67 382.40,96.70 C385.37,98.73 390.17,114.78 393.00,117.50 C395.83,120.22 397.23,112.00 399.40,113.00 C401.57,114.00 403.57,121.92 406.00,123.50 C408.43,125.08 411.50,121.42 414.00,122.50 C416.50,123.58 418.55,128.88 421.00,130.00 C423.45,131.12 426.30,128.20 428.70,129.20 C431.10,130.20 432.85,135.37 435.40,136.00 C437.95,136.63 441.23,132.67 444.00,133.00 C446.77,133.33 449.43,137.73 452.00,138.00 C454.57,138.27 456.90,134.43 459.40,134.60 C461.90,134.77 464.27,138.77 467.00,139.00 C469.73,139.23 473.13,135.92 475.80,136.00 C478.47,136.08 480.60,139.17 483.00,139.50 C485.40,139.83 487.70,137.92 490.20,138.00 C492.70,138.08 495.53,139.80 498.00,140.00 C500.47,140.20 502.67,139.15 505.00,139.20 C507.33,139.25 509.83,140.13 512.00,140.30 C514.17,140.47 517.00,140.22 518.00,140.20" fill="none" stroke="#4c4c84" stroke-width="1.6" stroke-linejoin="round"/>
<path d="M274.20,140.70 C276.25,140.68 283.97,140.80 286.50,140.60 C289.03,140.40 288.23,142.98 289.40,139.50 C290.57,136.02 291.40,120.85 293.50,119.70 C295.60,118.55 299.50,133.27 302.00,132.60 C304.50,131.93 306.17,116.70 308.50,115.70 C310.83,114.70 313.50,127.32 316.00,126.60 C318.50,125.88 321.00,112.67 323.50,111.40 C326.00,110.13 328.58,119.35 331.00,119.00 C333.42,118.65 335.67,109.47 338.00,109.30 C340.33,109.13 342.67,118.13 345.00,118.00 C347.33,117.87 349.25,108.00 352.00,108.50 C354.75,109.00 358.75,119.75 361.50,121.00 C364.25,122.25 366.25,115.50 368.50,116.00 C370.75,116.50 372.75,122.90 375.00,124.00 C377.25,125.10 379.50,122.10 382.00,122.60 C384.50,123.10 387.17,126.05 390.00,127.00 C392.83,127.95 395.67,127.33 399.00,128.30 C402.33,129.27 406.50,131.77 410.00,132.80 C413.50,133.83 416.67,133.80 420.00,134.50 C423.33,135.20 425.83,136.33 430.00,137.00 C434.17,137.67 440.00,138.08 445.00,138.50 C450.00,138.92 454.17,139.25 460.00,139.50 C465.83,139.75 470.33,139.87 480.00,140.00 C489.67,140.13 511.67,140.25 518.00,140.30" fill="none" stroke="#e2da8a" stroke-width="2.4" opacity="0.6"/>
<path d="M274.20,140.70 C276.25,140.68 283.97,140.80 286.50,140.60 C289.03,140.40 288.23,142.98 289.40,139.50 C290.57,136.02 291.40,120.85 293.50,119.70 C295.60,118.55 299.50,133.27 302.00,132.60 C304.50,131.93 306.17,116.70 308.50,115.70 C310.83,114.70 313.50,127.32 316.00,126.60 C318.50,125.88 321.00,112.67 323.50,111.40 C326.00,110.13 328.58,119.35 331.00,119.00 C333.42,118.65 335.67,109.47 338.00,109.30 C340.33,109.13 342.67,118.13 345.00,118.00 C347.33,117.87 349.25,108.00 352.00,108.50 C354.75,109.00 358.75,119.75 361.50,121.00 C364.25,122.25 366.25,115.50 368.50,116.00 C370.75,116.50 372.75,122.90 375.00,124.00 C377.25,125.10 379.50,122.10 382.00,122.60 C384.50,123.10 387.17,126.05 390.00,127.00 C392.83,127.95 395.67,127.33 399.00,128.30 C402.33,129.27 406.50,131.77 410.00,132.80 C413.50,133.83 416.67,133.80 420.00,134.50 C423.33,135.20 425.83,136.33 430.00,137.00 C434.17,137.67 440.00,138.08 445.00,138.50 C450.00,138.92 454.17,139.25 460.00,139.50 C465.83,139.75 470.33,139.87 480.00,140.00 C489.67,140.13 511.67,140.25 518.00,140.30" fill="none" stroke="#86794a" stroke-width="1.3" stroke-dasharray="2.8,1.2"/>
<path d="M274.20,140.70 C276.25,140.68 283.97,140.75 286.50,140.60 C289.03,140.45 288.15,141.47 289.40,139.80 C290.65,138.13 291.90,130.98 294.00,130.60 C296.10,130.22 299.58,137.17 302.00,137.50 C304.42,137.83 306.17,132.68 308.50,132.60 C310.83,132.52 313.58,136.85 316.00,137.00 C318.42,137.15 320.50,133.58 323.00,133.50 C325.50,133.42 328.50,136.33 331.00,136.50 C333.50,136.67 335.67,134.50 338.00,134.50 C340.33,134.50 342.67,136.33 345.00,136.50 C347.33,136.67 348.67,135.55 352.00,135.50 C355.33,135.45 360.33,136.05 365.00,136.20 C369.67,136.35 374.17,136.30 380.00,136.40 C385.83,136.50 393.33,136.67 400.00,136.80 C406.67,136.93 410.00,136.95 420.00,137.20 C430.00,137.45 443.67,137.92 460.00,138.30 C476.33,138.68 508.33,139.30 518.00,139.50" fill="none" stroke="#f090a0" stroke-width="1.4" opacity="0.5"/>
<path d="M274.20,140.70 C276.25,140.68 283.97,140.75 286.50,140.60 C289.03,140.45 288.15,141.47 289.40,139.80 C290.65,138.13 291.90,130.98 294.00,130.60 C296.10,130.22 299.58,137.17 302.00,137.50 C304.42,137.83 306.17,132.68 308.50,132.60 C310.83,132.52 313.58,136.85 316.00,137.00 C318.42,137.15 320.50,133.58 323.00,133.50 C325.50,133.42 328.50,136.33 331.00,136.50 C333.50,136.67 335.67,134.50 338.00,134.50 C340.33,134.50 342.67,136.33 345.00,136.50 C347.33,136.67 348.67,135.55 352.00,135.50 C355.33,135.45 360.33,136.05 365.00,136.20 C369.67,136.35 374.17,136.30 380.00,136.40 C385.83,136.50 393.33,136.67 400.00,136.80 C406.67,136.93 410.00,136.95 420.00,137.20 C430.00,137.45 443.67,137.92 460.00,138.30 C476.33,138.68 508.33,139.30 518.00,139.50" fill="none" stroke="#d8304a" stroke-width="1.1" stroke-dasharray="0.9,0.8"/>
<line x1="352" y1="66" x2="352" y2="140.7" stroke="#000" stroke-width="1.0" stroke-dasharray="3,1.5"/>
</g>
<g>
<ellipse cx="464.50" cy="104.00" rx="41.50" ry="16.00" fill="#f29aa6" stroke="none" stroke-width="1.00" opacity="0.60" filter="url(#b3)"/>
<ellipse cx="464.50" cy="104.00" rx="35.00" ry="12.50" fill="#fff" stroke="none" stroke-width="1.00" opacity="0.80" filter="url(#b2)"/>
<path d="M440,87.5 L489,120.5 M440,120.5 L489,87.5" stroke="#ec8894" stroke-width="10" opacity="0.5" filter="url(#b2)"/>
<path d="M445.5,90 L483.5,118 M445.5,118 L483.5,90" stroke="#d81e2a" stroke-width="8.8" filter="url(#b05)"/>
<ellipse cx="464.50" cy="104.00" rx="6.00" ry="7.50" fill="#d81e2a" stroke="none" stroke-width="1.00" opacity="1.00" filter="url(#b05)"/>
<g transform="translate(457.70,104.00) rotate(90)">
<path d="M0.00,-3.50 C-6.08,3.25 -13.50,7.70 -13.50,16.50 C-13.50,26.50 -8.37,36.50 0.00,36.50 C8.37,36.50 13.50,26.50 13.50,16.50 C13.50,7.70 6.08,3.25 0.00,-3.50 Z" fill="none" stroke="#f0a0aa" stroke-width="2.60" opacity="0.50" filter="url(#b05)"/>
<path d="M0.00,-1.50 C-5.17,4.25 -11.50,8.58 -11.50,16.50 C-11.50,25.50 -7.13,34.50 0.00,34.50 C7.13,34.50 11.50,25.50 11.50,16.50 C11.50,8.58 5.17,4.25 0.00,-1.50 Z" fill="#fff" opacity="1.00" filter="url(#b1)"/>
<path d="M0.00,2.50 C-4.50,7.50 -10.00,10.90 -10.00,17.50 C-10.00,25.00 -6.20,32.50 0.00,32.50 C6.20,32.50 10.00,25.00 10.00,17.50 C10.00,10.90 4.50,7.50 0.00,2.50 Z" fill="none" stroke="#b4c4ee" stroke-width="1.70" opacity="0.95" filter="url(#b05)"/>
<path d="M0.00,8.50 C-3.06,11.90 -6.80,13.82 -6.80,18.00 C-6.80,22.75 -4.22,27.50 0.00,27.50 C4.22,27.50 6.80,22.75 6.80,18.00 C6.80,13.82 3.06,11.90 0.00,8.50 Z" fill="none" stroke="#f2b8b0" stroke-width="1.50" opacity="0.90" filter="url(#b05)"/>
<path d="M0.00,13.00 C-1.71,14.90 -3.80,16.08 -3.80,18.50 C-3.80,21.25 -2.36,24.00 0.00,24.00 C2.36,24.00 3.80,21.25 3.80,18.50 C3.80,16.08 1.71,14.90 0.00,13.00 Z" fill="none" stroke="#a8b8ec" stroke-width="1.30" opacity="0.90" filter="url(#b05)"/>
<ellipse cx="0" cy="18.5" rx="1.6" ry="1.9" fill="#6a7ee0" filter="url(#b05)"/>
</g>
<g transform="translate(471.30,104.00) rotate(-90)">
<path d="M0.00,-3.50 C-6.08,3.25 -13.50,7.70 -13.50,16.50 C-13.50,26.50 -8.37,36.50 0.00,36.50 C8.37,36.50 13.50,26.50 13.50,16.50 C13.50,7.70 6.08,3.25 0.00,-3.50 Z" fill="none" stroke="#f0a0aa" stroke-width="2.60" opacity="0.50" filter="url(#b05)"/>
<path d="M0.00,-1.50 C-5.17,4.25 -11.50,8.58 -11.50,16.50 C-11.50,25.50 -7.13,34.50 0.00,34.50 C7.13,34.50 11.50,25.50 11.50,16.50 C11.50,8.58 5.17,4.25 0.00,-1.50 Z" fill="#fff" opacity="1.00" filter="url(#b1)"/>
<path d="M0.00,2.50 C-4.50,7.50 -10.00,10.90 -10.00,17.50 C-10.00,25.00 -6.20,32.50 0.00,32.50 C6.20,32.50 10.00,25.00 10.00,17.50 C10.00,10.90 4.50,7.50 0.00,2.50 Z" fill="none" stroke="#b4c4ee" stroke-width="1.70" opacity="0.95" filter="url(#b05)"/>
<path d="M0.00,8.50 C-3.06,11.90 -6.80,13.82 -6.80,18.00 C-6.80,22.75 -4.22,27.50 0.00,27.50 C4.22,27.50 6.80,22.75 6.80,18.00 C6.80,13.82 3.06,11.90 0.00,8.50 Z" fill="none" stroke="#f2b8b0" stroke-width="1.50" opacity="0.90" filter="url(#b05)"/>
<path d="M0.00,13.00 C-1.71,14.90 -3.80,16.08 -3.80,18.50 C-3.80,21.25 -2.36,24.00 0.00,24.00 C2.36,24.00 3.80,21.25 3.80,18.50 C3.80,16.08 1.71,14.90 0.00,13.00 Z" fill="none" stroke="#a8b8ec" stroke-width="1.30" opacity="0.90" filter="url(#b05)"/>
<ellipse cx="0" cy="18.5" rx="1.6" ry="1.9" fill="#6a7ee0" filter="url(#b05)"/>
</g>
<ellipse cx="464.50" cy="89.80" rx="7.50" ry="1.40" fill="#fff" stroke="none" stroke-width="1.00" opacity="0.80" filter="url(#b05)"/>
<ellipse cx="464.50" cy="89.80" rx="6.50" ry="1.00" fill="#b8c4ec" stroke="none" stroke-width="1.00" opacity="1.00" filter="url(#b05)"/>
<ellipse cx="464.50" cy="118.20" rx="7.50" ry="1.40" fill="#fff" stroke="none" stroke-width="1.00" opacity="0.80" filter="url(#b05)"/>
<ellipse cx="464.50" cy="118.20" rx="6.50" ry="1.00" fill="#b8c4ec" stroke="none" stroke-width="1.00" opacity="1.00" filter="url(#b05)"/>
</g>
<rect x="269.60" y="65.80" width="248.40" height="74.90" fill="none" stroke="#222" stroke-width="1"/>
<line x1="274.20" y1="140.70" x2="274.20" y2="138.20" stroke="#222" stroke-width="0.7"/>
<line x1="289.40" y1="140.70" x2="289.40" y2="139.30" stroke="#222" stroke-width="0.7"/>
<line x1="304.60" y1="140.70" x2="304.60" y2="139.30" stroke="#222" stroke-width="0.7"/>
<line x1="319.80" y1="140.70" x2="319.80" y2="139.30" stroke="#222" stroke-width="0.7"/>
<line x1="335.00" y1="140.70" x2="335.00" y2="139.30" stroke="#222" stroke-width="0.7"/>
<line x1="350.20" y1="140.70" x2="350.20" y2="138.20" stroke="#222" stroke-width="0.7"/>
<line x1="365.40" y1="140.70" x2="365.40" y2="139.30" stroke="#222" stroke-width="0.7"/>
<line x1="380.60" y1="140.70" x2="380.60" y2="139.30" stroke="#222" stroke-width="0.7"/>
<line x1="395.80" y1="140.70" x2="395.80" y2="139.30" stroke="#222" stroke-width="0.7"/>
<line x1="411.00" y1="140.70" x2="411.00" y2="139.30" stroke="#222" stroke-width="0.7"/>
<line x1="426.20" y1="140.70" x2="426.20" y2="138.20" stroke="#222" stroke-width="0.7"/>
<line x1="441.40" y1="140.70" x2="441.40" y2="139.30" stroke="#222" stroke-width="0.7"/>
<line x1="456.60" y1="140.70" x2="456.60" y2="139.30" stroke="#222" stroke-width="0.7"/>
<line x1="471.80" y1="140.70" x2="471.80" y2="139.30" stroke="#222" stroke-width="0.7"/>
<line x1="487.00" y1="140.70" x2="487.00" y2="139.30" stroke="#222" stroke-width="0.7"/>
<line x1="502.20" y1="140.70" x2="502.20" y2="138.20" stroke="#222" stroke-width="0.7"/>
<line x1="517.40" y1="140.70" x2="517.40" y2="139.30" stroke="#222" stroke-width="0.7"/>
<line x1="274.10" y1="65.80" x2="274.10" y2="67.40" stroke="#222" stroke-width="0.7"/>
<line x1="286.20" y1="65.80" x2="286.20" y2="67.40" stroke="#222" stroke-width="0.7"/>
<line x1="298.30" y1="65.80" x2="298.30" y2="67.40" stroke="#222" stroke-width="0.7"/>
<line x1="310.40" y1="65.80" x2="310.40" y2="67.40" stroke="#222" stroke-width="0.7"/>
<line x1="322.50" y1="65.80" x2="322.50" y2="67.40" stroke="#222" stroke-width="0.7"/>
<line x1="334.60" y1="65.80" x2="334.60" y2="67.40" stroke="#222" stroke-width="0.7"/>
<line x1="346.70" y1="65.80" x2="346.70" y2="67.40" stroke="#222" stroke-width="0.7"/>
<line x1="358.80" y1="65.80" x2="358.80" y2="67.40" stroke="#222" stroke-width="0.7"/>
<line x1="370.90" y1="65.80" x2="370.90" y2="67.40" stroke="#222" stroke-width="0.7"/>
<line x1="383.00" y1="65.80" x2="383.00" y2="67.40" stroke="#222" stroke-width="0.7"/>
<line x1="395.10" y1="65.80" x2="395.10" y2="67.40" stroke="#222" stroke-width="0.7"/>
<line x1="407.20" y1="65.80" x2="407.20" y2="67.40" stroke="#222" stroke-width="0.7"/>
<line x1="419.30" y1="65.80" x2="419.30" y2="67.40" stroke="#222" stroke-width="0.7"/>
<line x1="431.40" y1="65.80" x2="431.40" y2="67.40" stroke="#222" stroke-width="0.7"/>
<line x1="443.50" y1="65.80" x2="443.50" y2="67.40" stroke="#222" stroke-width="0.7"/>
<line x1="455.60" y1="65.80" x2="455.60" y2="67.40" stroke="#222" stroke-width="0.7"/>
<line x1="467.70" y1="65.80" x2="467.70" y2="67.40" stroke="#222" stroke-width="0.7"/>
<line x1="479.80" y1="65.80" x2="479.80" y2="67.40" stroke="#222" stroke-width="0.7"/>
<line x1="491.90" y1="65.80" x2="491.90" y2="67.40" stroke="#222" stroke-width="0.7"/>
<line x1="504.00" y1="65.80" x2="504.00" y2="67.40" stroke="#222" stroke-width="0.7"/>
<line x1="516.10" y1="65.80" x2="516.10" y2="67.40" stroke="#222" stroke-width="0.7"/>
<line x1="269.60" y1="140.70" x2="272.10" y2="140.70" stroke="#222" stroke-width="0.6"/>
<line x1="518.00" y1="140.70" x2="515.50" y2="140.70" stroke="#222" stroke-width="0.6"/>
<line x1="269.60" y1="137.37" x2="270.90" y2="137.37" stroke="#222" stroke-width="0.6"/>
<line x1="518.00" y1="137.37" x2="516.70" y2="137.37" stroke="#222" stroke-width="0.6"/>
<line x1="269.60" y1="134.04" x2="270.90" y2="134.04" stroke="#222" stroke-width="0.6"/>
<line x1="518.00" y1="134.04" x2="516.70" y2="134.04" stroke="#222" stroke-width="0.6"/>
<line x1="269.60" y1="130.71" x2="270.90" y2="130.71" stroke="#222" stroke-width="0.6"/>
<line x1="518.00" y1="130.71" x2="516.70" y2="130.71" stroke="#222" stroke-width="0.6"/>
<line x1="269.60" y1="127.38" x2="270.90" y2="127.38" stroke="#222" stroke-width="0.6"/>
<line x1="518.00" y1="127.38" x2="516.70" y2="127.38" stroke="#222" stroke-width="0.6"/>
<line x1="269.60" y1="124.05" x2="272.10" y2="124.05" stroke="#222" stroke-width="0.6"/>
<line x1="518.00" y1="124.05" x2="515.50" y2="124.05" stroke="#222" stroke-width="0.6"/>
<line x1="269.60" y1="120.72" x2="270.90" y2="120.72" stroke="#222" stroke-width="0.6"/>
<line x1="518.00" y1="120.72" x2="516.70" y2="120.72" stroke="#222" stroke-width="0.6"/>
<line x1="269.60" y1="117.39" x2="270.90" y2="117.39" stroke="#222" stroke-width="0.6"/>
<line x1="518.00" y1="117.39" x2="516.70" y2="117.39" stroke="#222" stroke-width="0.6"/>
<line x1="269.60" y1="114.06" x2="270.90" y2="114.06" stroke="#222" stroke-width="0.6"/>
<line x1="518.00" y1="114.06" x2="516.70" y2="114.06" stroke="#222" stroke-width="0.6"/>
<line x1="269.60" y1="110.73" x2="270.90" y2="110.73" stroke="#222" stroke-width="0.6"/>
<line x1="518.00" y1="110.73" x2="516.70" y2="110.73" stroke="#222" stroke-width="0.6"/>
<line x1="269.60" y1="107.40" x2="272.10" y2="107.40" stroke="#222" stroke-width="0.6"/>
<line x1="518.00" y1="107.40" x2="515.50" y2="107.40" stroke="#222" stroke-width="0.6"/>
<line x1="269.60" y1="104.07" x2="270.90" y2="104.07" stroke="#222" stroke-width="0.6"/>
<line x1="518.00" y1="104.07" x2="516.70" y2="104.07" stroke="#222" stroke-width="0.6"/>
<line x1="269.60" y1="100.74" x2="270.90" y2="100.74" stroke="#222" stroke-width="0.6"/>
<line x1="518.00" y1="100.74" x2="516.70" y2="100.74" stroke="#222" stroke-width="0.6"/>
<line x1="269.60" y1="97.41" x2="270.90" y2="97.41" stroke="#222" stroke-width="0.6"/>
<line x1="518.00" y1="97.41" x2="516.70" y2="97.41" stroke="#222" stroke-width="0.6"/>
<line x1="269.60" y1="94.08" x2="270.90" y2="94.08" stroke="#222" stroke-width="0.6"/>
<line x1="518.00" y1="94.08" x2="516.70" y2="94.08" stroke="#222" stroke-width="0.6"/>
<line x1="269.60" y1="90.75" x2="272.10" y2="90.75" stroke="#222" stroke-width="0.6"/>
<line x1="518.00" y1="90.75" x2="515.50" y2="90.75" stroke="#222" stroke-width="0.6"/>
<line x1="269.60" y1="87.42" x2="270.90" y2="87.42" stroke="#222" stroke-width="0.6"/>
<line x1="518.00" y1="87.42" x2="516.70" y2="87.42" stroke="#222" stroke-width="0.6"/>
<line x1="269.60" y1="84.09" x2="270.90" y2="84.09" stroke="#222" stroke-width="0.6"/>
<line x1="518.00" y1="84.09" x2="516.70" y2="84.09" stroke="#222" stroke-width="0.6"/>
<line x1="269.60" y1="80.76" x2="270.90" y2="80.76" stroke="#222" stroke-width="0.6"/>
<line x1="518.00" y1="80.76" x2="516.70" y2="80.76" stroke="#222" stroke-width="0.6"/>
<line x1="269.60" y1="77.43" x2="270.90" y2="77.43" stroke="#222" stroke-width="0.6"/>
<line x1="518.00" y1="77.43" x2="516.70" y2="77.43" stroke="#222" stroke-width="0.6"/>
<line x1="269.60" y1="74.10" x2="272.10" y2="74.10" stroke="#222" stroke-width="0.6"/>
<line x1="518.00" y1="74.10" x2="515.50" y2="74.10" stroke="#222" stroke-width="0.6"/>
<line x1="269.60" y1="70.77" x2="270.90" y2="70.77" stroke="#222" stroke-width="0.6"/>
<line x1="518.00" y1="70.77" x2="516.70" y2="70.77" stroke="#222" stroke-width="0.6"/>
<line x1="269.60" y1="67.44" x2="270.90" y2="67.44" stroke="#222" stroke-width="0.6"/>
<line x1="518.00" y1="67.44" x2="516.70" y2="67.44" stroke="#222" stroke-width="0.6"/>
<text x="266.3" y="143.60" font-size="8" font-weight="bold" letter-spacing="0.3" text-anchor="end" fill="#333" font-family="'Liberation Serif', 'DejaVu Serif', serif">0.0</text>
<text x="266.3" y="126.95" font-size="8" font-weight="bold" letter-spacing="0.3" text-anchor="end" fill="#333" font-family="'Liberation Serif', 'DejaVu Serif', serif">0.1</text>
<text x="266.3" y="110.30" font-size="8" font-weight="bold" letter-spacing="0.3" text-anchor="end" fill="#333" font-family="'Liberation Serif', 'DejaVu Serif', serif">0.2</text>
<text x="266.3" y="93.65" font-size="8" font-weight="bold" letter-spacing="0.3" text-anchor="end" fill="#333" font-family="'Liberation Serif', 'DejaVu Serif', serif">0.3</text>
<text x="266.3" y="77.00" font-size="8" font-weight="bold" letter-spacing="0.3" text-anchor="end" fill="#333" font-family="'Liberation Serif', 'DejaVu Serif', serif">0.4</text>
<text x="276.80" y="148.6" font-size="8" font-weight="bold" letter-spacing="0.4" text-anchor="middle" fill="#333" font-family="'Liberation Serif', 'DejaVu Serif', serif">0.0</text>
<text x="350.20" y="148.6" font-size="8" font-weight="bold" letter-spacing="0.4" text-anchor="middle" fill="#333" font-family="'Liberation Serif', 'DejaVu Serif', serif">0.05</text>
<text x="426.20" y="148.6" font-size="8" font-weight="bold" letter-spacing="0.4" text-anchor="middle" fill="#333" font-family="'Liberation Serif', 'DejaVu Serif', serif">0.10</text>
<text x="502.20" y="148.6" font-size="8" font-weight="bold" letter-spacing="0.4" text-anchor="middle" fill="#333" font-family="'Liberation Serif', 'DejaVu Serif', serif">0.15</text>
<text x="274.2" y="77.0" font-size="8.6" fill="#555" font-family="'Liberation Serif', 'DejaVu Serif', serif">(a)</text>
<text transform="translate(460.40,75.90) scale(1.45,1)" font-size="10" font-style="italic" fill="#111" stroke="#111" stroke-width="0.15" font-family="'Liberation Serif', 'DejaVu Serif', serif">z</text>
<text x="466.60" y="76.90" font-size="7.6" font-style="italic" font-weight="bold" fill="#222" font-family="'Liberation Serif', 'DejaVu Serif', serif">zpf</text>
<text transform="translate(477.90,75.70) scale(1.3,1)" font-size="9.5" fill="#111" stroke="#111" stroke-width="0.15" font-family="'Liberation Serif', 'DejaVu Serif', serif">=</text>
<text x="488.00" y="75.90" font-size="9.5" font-weight="bold" letter-spacing="0.45" fill="#111" font-family="'Liberation Serif', 'DejaVu Serif', serif">200</text>
<text transform="translate(504.90,75.90) scale(1.1,1)" font-size="9.5" font-weight="bold" fill="#111" font-family="'Liberation Serif', 'DejaVu Serif', serif">fm</text>
<g clip-path="url(#clipG)">
<path d="M274.00,178.50 C276.67,178.50 286.42,178.50 290.00,178.50 C293.58,178.50 294.13,179.57 295.50,178.50 C296.87,177.43 297.38,173.59 298.19,172.06 C299.01,170.53 299.34,169.13 300.40,169.30 C301.46,169.47 302.93,171.81 304.54,173.08 C306.15,174.36 308.45,176.08 310.06,176.95 C311.67,177.82 312.98,179.53 314.20,178.30 C315.42,177.07 316.42,171.63 317.39,169.55 C318.36,167.47 318.88,165.77 320.00,165.80 C321.12,165.83 322.53,168.39 324.14,169.71 C325.75,171.02 328.05,172.81 329.66,173.70 C331.27,174.60 332.58,176.35 333.80,175.10 C335.02,173.85 336.02,168.33 336.99,166.21 C337.96,164.09 338.50,162.33 339.60,162.40 C340.71,162.47 342.06,165.21 343.62,166.64 C345.18,168.07 347.42,170.01 348.98,170.99 C350.54,171.96 351.83,173.85 353.00,172.50 C354.17,171.15 355.11,165.19 356.02,162.91 C356.94,160.63 357.39,158.88 358.50,158.80 C359.61,158.72 361.07,161.22 362.70,162.45 C364.33,163.69 366.67,165.35 368.30,166.19 C369.93,167.04 371.30,168.45 372.50,167.50 C373.70,166.55 374.61,162.17 375.52,160.50 C376.44,158.83 376.91,157.41 378.00,157.50 C379.09,157.59 380.48,159.87 382.05,161.07 C383.62,162.27 385.88,163.90 387.45,164.72 C389.02,165.55 390.37,166.69 391.50,166.00 C392.63,165.31 393.42,161.89 394.25,160.61 C395.08,159.33 395.57,158.29 396.50,158.30 C397.43,158.31 398.52,159.89 399.80,160.69 C401.08,161.50 402.92,162.59 404.20,163.15 C405.48,163.70 406.45,164.27 407.50,164.00 C408.55,163.73 409.61,162.13 410.52,161.55 C411.44,160.97 411.96,160.19 413.00,160.50 C414.04,160.81 415.29,162.45 416.75,163.44 C418.21,164.43 420.29,165.77 421.75,166.45 C423.21,167.13 424.37,167.68 425.50,167.50 C426.63,167.32 427.61,165.90 428.52,165.40 C429.44,164.90 429.91,164.17 431.00,164.50 C432.09,164.83 433.48,166.39 435.05,167.36 C436.62,168.32 438.88,169.62 440.45,170.28 C442.02,170.94 443.32,171.52 444.50,171.30 C445.68,171.09 446.61,169.54 447.52,168.99 C448.44,168.44 448.89,167.71 450.00,168.00 C451.11,168.29 452.57,169.81 454.20,170.73 C455.83,171.65 458.17,172.90 459.80,173.53 C461.43,174.15 462.80,174.63 464.00,174.50 C465.20,174.37 466.11,173.17 467.02,172.75 C467.94,172.33 468.46,171.80 469.50,172.00 C470.54,172.20 471.79,173.28 473.25,173.93 C474.71,174.58 476.79,175.47 478.25,175.91 C479.71,176.35 480.96,176.64 482.00,176.60 C483.04,176.56 483.73,175.91 484.48,175.69 C485.23,175.47 485.59,175.15 486.50,175.30 C487.41,175.45 488.61,176.16 489.95,176.60 C491.29,177.04 493.21,177.64 494.55,177.94 C495.89,178.23 494.09,178.31 498.00,178.40 C501.91,178.49 514.67,178.48 518.00,178.50 L518,178.5 L274,178.5 Z" fill="url(#grn)"/>
<path d="M274.00,178.50 C276.67,178.50 286.42,178.50 290.00,178.50 C293.58,178.50 294.13,179.57 295.50,178.50 C296.87,177.43 297.38,173.59 298.19,172.06 C299.01,170.53 299.34,169.13 300.40,169.30 C301.46,169.47 302.93,171.81 304.54,173.08 C306.15,174.36 308.45,176.08 310.06,176.95 C311.67,177.82 312.98,179.53 314.20,178.30 C315.42,177.07 316.42,171.63 317.39,169.55 C318.36,167.47 318.88,165.77 320.00,165.80 C321.12,165.83 322.53,168.39 324.14,169.71 C325.75,171.02 328.05,172.81 329.66,173.70 C331.27,174.60 332.58,176.35 333.80,175.10 C335.02,173.85 336.02,168.33 336.99,166.21 C337.96,164.09 338.50,162.33 339.60,162.40 C340.71,162.47 342.06,165.21 343.62,166.64 C345.18,168.07 347.42,170.01 348.98,170.99 C350.54,171.96 351.83,173.85 353.00,172.50 C354.17,171.15 355.11,165.19 356.02,162.91 C356.94,160.63 357.39,158.88 358.50,158.80 C359.61,158.72 361.07,161.22 362.70,162.45 C364.33,163.69 366.67,165.35 368.30,166.19 C369.93,167.04 371.30,168.45 372.50,167.50 C373.70,166.55 374.61,162.17 375.52,160.50 C376.44,158.83 376.91,157.41 378.00,157.50 C379.09,157.59 380.48,159.87 382.05,161.07 C383.62,162.27 385.88,163.90 387.45,164.72 C389.02,165.55 390.37,166.69 391.50,166.00 C392.63,165.31 393.42,161.89 394.25,160.61 C395.08,159.33 395.57,158.29 396.50,158.30 C397.43,158.31 398.52,159.89 399.80,160.69 C401.08,161.50 402.92,162.59 404.20,163.15 C405.48,163.70 406.45,164.27 407.50,164.00 C408.55,163.73 409.61,162.13 410.52,161.55 C411.44,160.97 411.96,160.19 413.00,160.50 C414.04,160.81 415.29,162.45 416.75,163.44 C418.21,164.43 420.29,165.77 421.75,166.45 C423.21,167.13 424.37,167.68 425.50,167.50 C426.63,167.32 427.61,165.90 428.52,165.40 C429.44,164.90 429.91,164.17 431.00,164.50 C432.09,164.83 433.48,166.39 435.05,167.36 C436.62,168.32 438.88,169.62 440.45,170.28 C442.02,170.94 443.32,171.52 444.50,171.30 C445.68,171.09 446.61,169.54 447.52,168.99 C448.44,168.44 448.89,167.71 450.00,168.00 C451.11,168.29 452.57,169.81 454.20,170.73 C455.83,171.65 458.17,172.90 459.80,173.53 C461.43,174.15 462.80,174.63 464.00,174.50 C465.20,174.37 466.11,173.17 467.02,172.75 C467.94,172.33 468.46,171.80 469.50,172.00 C470.54,172.20 471.79,173.28 473.25,173.93 C474.71,174.58 476.79,175.47 478.25,175.91 C479.71,176.35 480.96,176.64 482.00,176.60 C483.04,176.56 483.73,175.91 484.48,175.69 C485.23,175.47 485.59,175.15 486.50,175.30 C487.41,175.45 488.61,176.16 489.95,176.60 C491.29,177.04 493.21,177.64 494.55,177.94 C495.89,178.23 494.09,178.31 498.00,178.40 C501.91,178.49 514.67,178.48 518.00,178.50" fill="none" stroke="#5a8a52" stroke-width="1.3"/>
</g>
<path d="M269.60,156.60 L269.60,178.50 L518.5,178.50" fill="none" stroke="#222" stroke-width="1"/>
<line x1="274.00" y1="178.50" x2="274.00" y2="176.00" stroke="#222" stroke-width="0.6"/>
<line x1="286.13" y1="178.50" x2="286.13" y2="177.10" stroke="#222" stroke-width="0.6"/>
<line x1="298.26" y1="178.50" x2="298.26" y2="177.10" stroke="#222" stroke-width="0.6"/>
<line x1="310.39" y1="178.50" x2="310.39" y2="177.10" stroke="#222" stroke-width="0.6"/>
<line x1="322.52" y1="178.50" x2="322.52" y2="177.10" stroke="#222" stroke-width="0.6"/>
<line x1="334.65" y1="178.50" x2="334.65" y2="176.00" stroke="#222" stroke-width="0.6"/>
<line x1="346.78" y1="178.50" x2="346.78" y2="177.10" stroke="#222" stroke-width="0.6"/>
<line x1="358.91" y1="178.50" x2="358.91" y2="177.10" stroke="#222" stroke-width="0.6"/>
<line x1="371.04" y1="178.50" x2="371.04" y2="177.10" stroke="#222" stroke-width="0.6"/>
<line x1="383.17" y1="178.50" x2="383.17" y2="177.10" stroke="#222" stroke-width="0.6"/>
<line x1="395.30" y1="178.50" x2="395.30" y2="176.00" stroke="#222" stroke-width="0.6"/>
<line x1="407.43" y1="178.50" x2="407.43" y2="177.10" stroke="#222" stroke-width="0.6"/>
<line x1="419.56" y1="178.50" x2="419.56" y2="177.10" stroke="#222" stroke-width="0.6"/>
<line x1="431.69" y1="178.50" x2="431.69" y2="177.10" stroke="#222" stroke-width="0.6"/>
<line x1="443.82" y1="178.50" x2="443.82" y2="177.10" stroke="#222" stroke-width="0.6"/>
<line x1="455.95" y1="178.50" x2="455.95" y2="176.00" stroke="#222" stroke-width="0.6"/>
<line x1="468.08" y1="178.50" x2="468.08" y2="177.10" stroke="#222" stroke-width="0.6"/>
<line x1="480.21" y1="178.50" x2="480.21" y2="177.10" stroke="#222" stroke-width="0.6"/>
<line x1="492.34" y1="178.50" x2="492.34" y2="177.10" stroke="#222" stroke-width="0.6"/>
<line x1="504.47" y1="178.50" x2="504.47" y2="177.10" stroke="#222" stroke-width="0.6"/>
<line x1="516.60" y1="178.50" x2="516.60" y2="176.00" stroke="#222" stroke-width="0.6"/>
<line x1="269.60" y1="178.50" x2="272.10" y2="178.50" stroke="#222" stroke-width="0.6"/>
<line x1="269.60" y1="168.00" x2="271.00" y2="168.00" stroke="#222" stroke-width="0.6"/>
<line x1="269.60" y1="157.50" x2="272.10" y2="157.50" stroke="#222" stroke-width="0.6"/>
<text x="267" y="160.6" font-size="8" font-weight="bold" letter-spacing="0.3" text-anchor="end" fill="#333" font-family="'Liberation Serif', 'DejaVu Serif', serif">0.1</text>
<text x="267.4" y="179.0" font-size="8" font-weight="bold" letter-spacing="0.3" text-anchor="end" fill="#333" font-family="'Liberation Serif', 'DejaVu Serif', serif">0.</text>
<text x="277.20" y="187.8" font-size="8.4" font-weight="bold" letter-spacing="0.4" text-anchor="middle" fill="#333" font-family="'Liberation Serif', 'DejaVu Serif', serif">0.0</text>
<text x="334.65" y="187.8" font-size="8.4" font-weight="bold" letter-spacing="0.4" text-anchor="middle" fill="#333" font-family="'Liberation Serif', 'DejaVu Serif', serif">0.5</text>
<text x="395.30" y="187.8" font-size="8.4" font-weight="bold" letter-spacing="0.4" text-anchor="middle" fill="#333" font-family="'Liberation Serif', 'DejaVu Serif', serif">1.0</text>
<text x="455.95" y="187.8" font-size="8.4" font-weight="bold" letter-spacing="0.4" text-anchor="middle" fill="#333" font-family="'Liberation Serif', 'DejaVu Serif', serif">1.5</text>
<text x="513.00" y="187.8" font-size="8.4" font-weight="bold" letter-spacing="0.4" text-anchor="middle" fill="#333" font-family="'Liberation Serif', 'DejaVu Serif', serif">2.0</text>
<text x="274.4" y="167.6" font-size="7.2" fill="#444" font-family="'Liberation Serif', 'DejaVu Serif', serif">(b)</text>
<text transform="translate(464.80,163.90) scale(1.45,1)" font-size="10" font-style="italic" fill="#111" stroke="#111" stroke-width="0.15" font-family="'Liberation Serif', 'DejaVu Serif', serif">z</text>
<text x="471.00" y="164.90" font-size="7.6" font-style="italic" font-weight="bold" fill="#222" font-family="'Liberation Serif', 'DejaVu Serif', serif">zpf</text>
<text transform="translate(482.80,163.70) scale(1.3,1)" font-size="9.5" fill="#111" stroke="#111" stroke-width="0.15" font-family="'Liberation Serif', 'DejaVu Serif', serif">=</text>
<text x="492.40" y="163.90" font-size="9.5" font-weight="bold" letter-spacing="0.45" fill="#111" font-family="'Liberation Serif', 'DejaVu Serif', serif">43</text>
<text transform="translate(503.50,163.90) scale(1.1,1)" font-size="9.5" font-weight="bold" fill="#111" font-family="'Liberation Serif', 'DejaVu Serif', serif">fm</text>
<text x="394.8" y="202.3" font-size="9.1" text-anchor="middle" fill="#111" stroke="#111" stroke-width="0.3" font-family="'Liberation Serif', 'DejaVu Serif', serif">Time (s)</text>
<text transform="translate(250.6,132.8) rotate(-90)" font-size="9.1" text-anchor="middle" fill="#111" stroke="#111" stroke-width="0.3" font-family="'Liberation Serif', 'DejaVu Serif', serif">Cattiness</text>
</svg>
</body></html>
